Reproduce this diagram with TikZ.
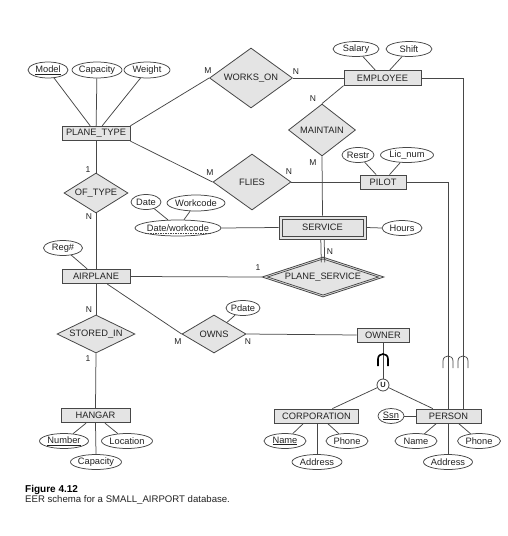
\documentclass[tikz,border=0pt]{standalone}
\usepackage{fontspec}
\setmainfont{Liberation Sans}
\usetikzlibrary{shapes.geometric,calc}
\definecolor{lc}{HTML}{474747}
\definecolor{bf}{HTML}{E4E4E4}
\definecolor{tc}{HTML}{222222}
\newcommand\zb[1]{\makebox[0pt]{#1}}
\begin{document}
\begin{tikzpicture}[x=1pt,y=-1pt,
 every node/.style={text=tc, font=\fontsize{9.3}{11}\selectfont},
 ent/.style={rectangle, draw=lc, fill=bf, line width=0.8pt, inner sep=0pt, minimum height=14.5pt},
 rel/.style={diamond, draw=lc, fill=bf, line width=0.8pt, inner sep=0pt},
 att/.style={ellipse, draw=lc, fill=white, line width=0.75pt, inner sep=0pt, minimum height=15pt},
 inner/.style={draw=lc, line width=0.75pt, inner sep=0pt},
 card/.style={inner sep=0pt, font=\fontsize{8.5}{10}\selectfont},
 con/.style={draw=lc, line width=0.75pt},
 subset/.pic={\path[pic actions] (-5,7) -- (-5,0) .. controls (-5,-6.67) and (5,-6.67) .. (5,0) -- (5,7);}
]
\useasboundingbox (0,0) rectangle (507,536);

% entities
\node[ent, minimum width=77pt] (emp) at (382.5,78) {\zb{EMPLOYEE}};
\node[ent, minimum width=68pt] (pt) at (96,133.5) {\zb{PLANE\_TYPE}};
\node[ent, minimum width=46pt, minimum height=14pt] (pil) at (383,182) {\zb{PILOT}};
\node[ent, minimum width=87pt, minimum height=23pt] (svc) at (322.5,227.5) {};
\node[inner, rectangle, minimum width=81pt, minimum height=17pt] (svci) at (svc.center) {\zb{SERVICE}};
\node[ent, minimum width=68pt] (ap) at (96,276.5) {\zb{AIRPLANE}};
\node[ent, minimum width=69pt] (hg) at (95.5,415.5) {\zb{HANGAR}};
\node[ent, minimum width=52pt, minimum height=14pt] (own) at (383,335) {\zb{OWNER}};
\node[ent, minimum width=84pt, minimum height=14pt] (corp) at (316.5,416) {\zb{CORPORATION}};
\node[ent, minimum width=65pt, minimum height=14pt] (per) at (448.5,416) {\zb{PERSON}};

% relationships
\node[rel, minimum width=83pt, minimum height=60pt] (wo) at (251,78) {\zb{WORKS\_ON}};
\node[rel, minimum width=67pt, minimum height=52pt] (mt) at (322,130) {\zb{MAINTAIN}};
\node[rel, minimum width=78pt, minimum height=56pt] (fl) at (252,182) {\zb{FLIES}};
\node[rel, minimum width=64pt, minimum height=40pt] (ot) at (96,193) {\zb{OF\_TYPE}};
\node[rel, minimum width=122pt, minimum height=40pt] (ps) at (323,277) {};
\node[inner, diamond, minimum width=111pt, minimum height=36.4pt] (psi) at (ps.center) {\zb{PLANE\_SERVICE}};
\node[rel, minimum width=78pt, minimum height=38pt] (si) at (96,334) {\zb{STORED\_IN}};
\node[rel, minimum width=64pt, minimum height=38pt] (ow) at (214,334) {\zb{OWNS}};

% attributes
\node[att, minimum width=46pt] (sal) at (356,49) {\zb{Salary}};
\node[att, minimum width=46pt] (shf) at (409,49) {\zb{Shift}};
\node[att, minimum width=40pt, minimum height=16pt] (mod) at (48,70) {\zb{\underline{Model}}};
\node[att, minimum width=50pt, minimum height=16pt] (cap) at (97,70) {\zb{Capacity}};
\node[att, minimum width=46pt, minimum height=16pt] (wgt) at (147,70) {\zb{Weight}};
\node[att, minimum width=32pt] (rst) at (358,155) {\zb{Restr}};
\node[att, minimum width=53pt] (lic) at (407,155) {\zb{Lic\_num}};
\node[att, minimum width=30pt] (dat) at (146,202) {\zb{Date}};
\node[att, minimum width=58pt, minimum height=16pt] (wc) at (196,203) {\zb{Workcode}};
\node[att, minimum width=86pt, minimum height=16pt] (dw) at (178,228) {\zb{Date/workcode}};
\node[att, minimum width=40pt] (hrs) at (402,228) {\zb{Hours}};
\node[att, minimum width=39pt] (reg) at (63,248) {\zb{Reg\#}};
\node[att, minimum width=34pt] (pd) at (243,308) {\zb{Pdate}};
\node[att, minimum width=49pt] (num) at (64,441) {\zb{\underline{Number}}};
\node[att, minimum width=51pt] (loc) at (127,441) {\zb{Location}};
\node[att, minimum width=51pt] (hcap) at (96,462) {\zb{Capacity}};
\node[att, minimum width=26pt] (ssn) at (391,416) {\zb{\underline{Ssn}}};
\node[att, minimum width=42pt] (cnam) at (285,441) {\zb{\underline{Name}}};
\node[att, minimum width=42pt] (cph) at (347,441) {\zb{Phone}};
\node[att, minimum width=50pt] (cad) at (317,462) {\zb{Address}};
\node[att, minimum width=42pt] (pnam) at (416,441) {\zb{Name}};
\node[att, minimum width=43pt] (pph) at (479,441) {\zb{Phone}};
\node[att, minimum width=49pt] (pad) at (448,462) {\zb{Address}};

\node[circle, draw=lc, fill=white, line width=0.8pt, inner sep=0pt, minimum size=12pt, font=\fontsize{7.5}{8}\selectfont\bfseries] (u) at (383,385) {\zb{U}};

% dashed underline of partial key
\draw[lc, line width=0.5pt, dash pattern=on 1.5pt off 1pt] ($(dw.center)+(-33,5)$) -- ($(dw.center)+(33,5)$);

% connectors
\draw[con] (mod) -- (pt);
\draw[con] (cap) -- (pt);
\draw[con] (wgt) -- (pt);
\draw[con] (pt.north east) -- (wo.west);
\draw[con] (pt.south east) -- (fl.west);
\draw[con] (wo.east) -- (emp.west);
\draw[con] (sal) -- (emp);
\draw[con] (shf) -- (emp);
\draw[con] (emp.south west) -- (mt.north);
\draw[con] (mt.south) -- (svc.north);
\draw[con] (fl.east) -- (pil.west);
\draw[con] (rst) -- (pil);
\draw[con] (lic) -- (pil);
\draw[con] (pil.east) -| ($(per.north)+(-0.5,0)$);
\draw[con] (emp.east) -| ($(per.north)+(14.5,0)$);
\draw[con] (pt.south) -- (ot.north);
\draw[con] (ot.south) -- (ap.north);
\draw[con] (dat) -- (dw);
\draw[con] (wc) -- (dw);
\draw[con] (dw.east) -- (svc.west);
\draw[con] (svc.east) -- (hrs.west);
\draw[con] ($(svc.south)+(-1.7,0)$) -- ($(psi.north)+(-1.7,4)$);
\draw[con] ($(svc.south)+(1.7,0)$) -- ($(psi.north)+(1.7,4)$);
\draw[con] (ap.east) -- (ps.west);
\draw[con] (reg) -- (ap);
\draw[con] (ap.south) -- (si.north);
\draw[con] (si.south) -- (hg.north);
\draw[con] (ap) -- (ow.west);
\draw[con] (pd) -- (ow);
\draw[con] (ow.east) -- (own.west);
\draw[con] (own.south) -- (u.north);
\draw[con] (u) -- (corp);
\draw[con] (u) -- (per);
\draw[con] (ssn.east) -- (per.west);
\draw[con] (num) -- (hg);
\draw[con] (loc) -- (hg);
\draw[con] (hcap.north) -- (hg.south);
\draw[con] (cnam) -- ($(corp.south)+(-13,0)$);
\draw[con] (cph) -- ($(corp.south)+(11,0)$);
\draw[con] (cad.north) -- (corp.south -| cad.north);
\draw[con] (pnam) -- ($(per.south)+(-12,0)$);
\draw[con] (pph) -- ($(per.south)+(10,0)$);
\draw[con] (pad.north) -- (per.south -| pad.north);

% subset symbols
\pic[draw=black, line width=1.6pt] at (383,359) {subset};
\pic[draw=lc, line width=0.75pt] at (448,361) {subset};
\pic[draw=lc, line width=0.75pt] at (463,361) {subset};

% cardinalities
\node[card] (c1) at (208,71) {M};
\node[card] (c2) at (296,72) {N};
\node[card] (c3) at (313,99) {N};
\node[card] (c4) at (313,163) {M};
\node[card] (c5) at (210,173) {M};
\node[card] (c6) at (289,172) {N};
\node[card] (c7) at (88,170) {1};
\node[card] (c8) at (89,217) {N};
\node[card] (c9) at (258,268) {1};
\node[card] (c10) at (330,252) {N};
\node[card] (c11) at (89,310) {N};
\node[card] (c12) at (88,359) {1};
\node[card] (c13) at (178,342) {M};
\node[card] (c14) at (248,342) {N};

% caption
\node[anchor=west, inner sep=0pt, text=black, font=\fontsize{10}{12}\selectfont\bfseries] (figt) at (25,490) {Figure 4.12};
\node[anchor=west, inner sep=0pt, text=tc, font=\fontsize{9.6}{11}\selectfont] (figc) at (25,499.5) {EER schema for a SMALL\_AIRPORT database.};
\end{tikzpicture}
\end{document}
